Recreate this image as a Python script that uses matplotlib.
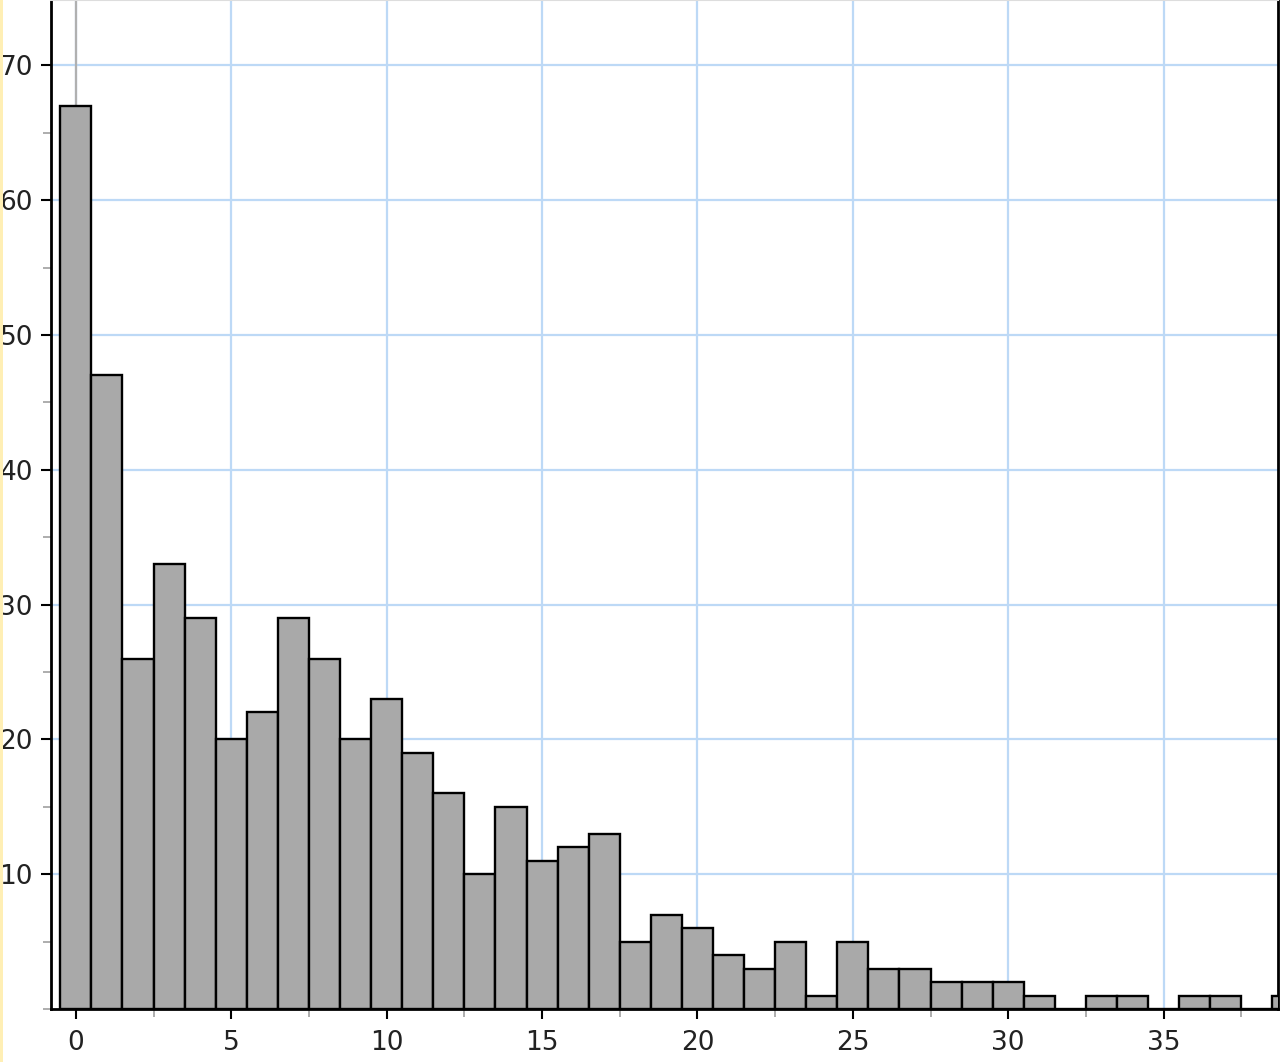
import matplotlib
matplotlib.use("Agg")
import matplotlib.pyplot as plt
from matplotlib.patches import Rectangle
from matplotlib.ticker import MultipleLocator

values = list(range(0, 40))
counts = [67, 47, 26, 33, 29, 20, 22, 29, 26, 20,
          23, 19, 16, 10, 15, 11, 12, 13, 5, 7,
          6, 4, 3, 5, 1, 5, 3, 3, 2, 2,
          2, 1, 0, 1, 1, 0, 1, 1, 0, 1]

W, H = 1288, 1062
fig = plt.figure(figsize=(W / 100, H / 100), dpi=100)
fig.patch.set_facecolor("white")
fig.patches.append(Rectangle((0, 0), 3 / W, 1, transform=fig.transFigure,
                             facecolor="#FFEFB5", edgecolor="none", zorder=0))

ax = fig.add_axes([51 / W, (H - 1009) / H, (1278 - 51) / W, 1009 / H])
ax.set_facecolor("white")

ax.axvline(0, color="#B0B0B0", lw=1.6, zorder=1)
ax.bar(values, counts, width=1.0, align="center", color="#A9A9A9",
       edgecolor="black", linewidth=1.7, zorder=3)

ax.set_xlim(-0.8, 38.68)
ax.set_ylim(0, 74.85)

ax.xaxis.set_major_locator(MultipleLocator(5))
ax.xaxis.set_minor_locator(MultipleLocator(2.5))
ax.yaxis.set_minor_locator(MultipleLocator(5))
ax.set_yticks([10, 20, 30, 40, 50, 60, 70])

ax.grid(True, which="major", color="#BDD9F6", linewidth=1.6, zorder=0)
ax.set_axisbelow(True)

ax.tick_params(axis="both", which="major", direction="out", length=7,
               width=1.5, color="black", labelsize=19, labelcolor="#222222")
ax.tick_params(axis="both", which="minor", direction="out", length=6,
               width=1.2, color="#A0A0A0")
ax.tick_params(axis="x", which="major", pad=8)
ax.tick_params(axis="y", which="major", pad=6)

for s in ("left", "bottom", "right"):
    ax.spines[s].set_color("black")
    ax.spines[s].set_linewidth(2)
ax.spines["top"].set_color("#DDDDDD")
ax.spines["top"].set_linewidth(1.5)

fig.savefig("out.png", dpi=100)
